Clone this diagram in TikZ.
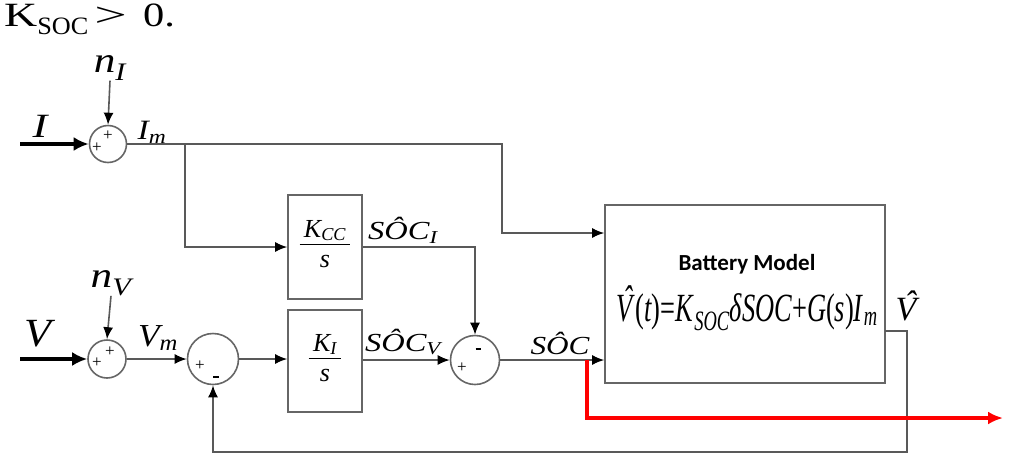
\documentclass[tikz,border=0pt]{standalone}
\usepackage{fontspec}
\setmainfont{Liberation Serif}
\newfontfamily\calib{Carlito}
\usetikzlibrary{arrows.meta}
\newcommand{\fr}[2]{{\setlength{\arrayrulewidth}{1.3pt}\begin{tabular}{@{\,}c@{\,}}#1\\[-1pt]\hline\rule{0pt}{22pt}#2\end{tabular}}}
\newcommand{\wx}[2][1.2]{\scalebox{#1}[1]{#2}}
\newcommand{\hv}{\makebox[0pt][l]{\hspace{0.26em}\raisebox{0.2em}{ˆ}}V}
\begin{document}
\begin{tikzpicture}[x=1pt,y=-1pt,
 wire/.style={draw=black!65, line width=1.6pt},
 arr/.style={wire,-{Latex[length=12pt,width=10pt,color=black]}},
 inarr/.style={draw=black,line width=4pt,-{Latex[length=15pt,width=14pt]}},
 sumc/.style={circle,draw=black!60,line width=1.6pt,minimum size=#1,inner sep=0pt},
 blk/.style={draw=black!60,line width=1.6pt,inner sep=0pt},
 lbl/.style={font=\fontsize{34}{34}\selectfont\itshape,inner sep=0pt},
 slbl/.style={font=\fontsize{26}{26}\selectfont\itshape,inner sep=0pt},
 sgn/.style={font=\fontsize{17}{17}\selectfont,inner sep=0pt}]
\useasboundingbox (0,0) rectangle (1033,469);

\node[anchor=base west,inner sep=0pt,font=\fontsize{34}{34}\selectfont] (ks) at (4,26) {\wx[1.35]{K}\raisebox{-8pt}{\fontsize{25}{25}\selectfont\wx[1.05]{SOC}}\hspace{6pt}\wx[1.7]{>}\hspace{16pt}\wx[1.25]{0.}};

% blocks
\node[sumc=37pt] (sI) at (108,144) {};
\node[sumc=38pt] (sV) at (107,359) {};
\node[sumc=51pt] (sE) at (213,359) {};
\node[sumc=49pt] (sS) at (475,360) {};
\node[blk,minimum width=74pt,minimum height=104pt,slbl] (kcc) at (325,247) {\fr{K\textsubscript{CC}}{s}};
\node[blk,minimum width=74pt,minimum height=102pt,slbl] (ki) at (325,361) {\fr{K\textsubscript{I}}{s}};
\node[blk,minimum width=280pt,minimum height=178pt] (bat) at (745,294) {};
\node[font=\calib\bfseries\fontsize{23}{23}\selectfont,inner sep=0pt] (bm) at (747,264) {Battery Model};
\node[font=\fontsize{40}{40}\selectfont,inner sep=0pt,anchor=base] (eq) at (747,321) {\scalebox{0.66}[1]{\textit{\hv}(\textit{t})=\textit{K}\textsubscript{\textit{SOC}}\textit{δSOC}+\textit{G}(\textit{s})\textit{I}\textsubscript{\textit{m}}}};

% signs
\node[sgn] (p1) at (97,148) {+};
\node[sgn] (p2) at (108,136) {+};
\node[sgn] (p3) at (97,363) {+};
\node[sgn] (p4) at (110,352) {+};
\node[sgn] (p5) at (200,366) {+};
\node[sgn] (m1) at (216,377) {\rule{6pt}{1.2pt}};
\node[sgn] (m2) at (478,349) {\rule{5pt}{1.2pt}};
\node[sgn] (p6) at (462,368) {+};

% labels
\node[lbl] (I) at (40,126) {\wx[1.3]{I}};
\node[lbl,font=\fontsize{36}{36}\selectfont\itshape] (nI) at (110,68) {\wx{n\textsubscript{I}}};
\node[slbl,font=\fontsize{28}{28}\selectfont\itshape] (Im) at (152,132) {\wx{I\textsubscript{m}}};
\node[lbl,font=\fontsize{40}{40}\selectfont\itshape] (V) at (38,334) {\wx[1.1]{V}};
\node[lbl,font=\fontsize{36}{36}\selectfont\itshape] (nV) at (111,283) {\wx{n\textsubscript{V}}};
\node[slbl,font=\fontsize{32}{32}\selectfont\itshape] (Vm) at (158,338) {\wx[1.1]{V\textsubscript{m}}};
\node[slbl] (socI) at (403,230) {\wx[1.25]{S\^{O}C\textsubscript{I}}};
\node[slbl] (socV) at (403,342) {\wx[1.25]{S\^{O}C\textsubscript{V}}};
\node[slbl] (soc) at (560,343) {\wx[1.2]{S\^{O}C}};
\node[lbl] (vh) at (906,306) {\hv};

% coordinates
\coordinate (c1) at (185,144);
\coordinate (t1) at (502,233);
\coordinate (fb) at (885,331);
\coordinate (fb1) at (907,452);
\coordinate (rj) at (587,360);
\coordinate (rout) at (1003,418);
\coordinate (iin) at (20,144);
\coordinate (vin) at (20,359);

% wires
\draw[inarr] (iin) -- (sI.west);
\draw[arr] (nI.south) -- (sI.north);
\draw[arr] (sI.east) -| (t1) -- (t1 -| bat.west);
\draw[arr] (c1) |- (kcc.west);
\draw[arr] (kcc.east) -| (sS.north);
\draw[arr] (sS.west -| ki.east) -- (sS.west);
\draw[arr] (sS.east) -- (sS.east -| bat.west);
\draw[inarr] (vin) -- (sV.west);
\draw[arr] (nV.south) -- (sV.north);
\draw[arr] (sV.east) -- (sE.west);
\draw[arr] (sE.east) -- (sE.east -| ki.west);
\draw[arr] (fb) -| (fb1) -| (sE.south);
\draw[red,line width=3.5pt,-{Latex[length=15pt,width=13pt]}] (rj) |- (rout);
\end{tikzpicture}
\end{document}
